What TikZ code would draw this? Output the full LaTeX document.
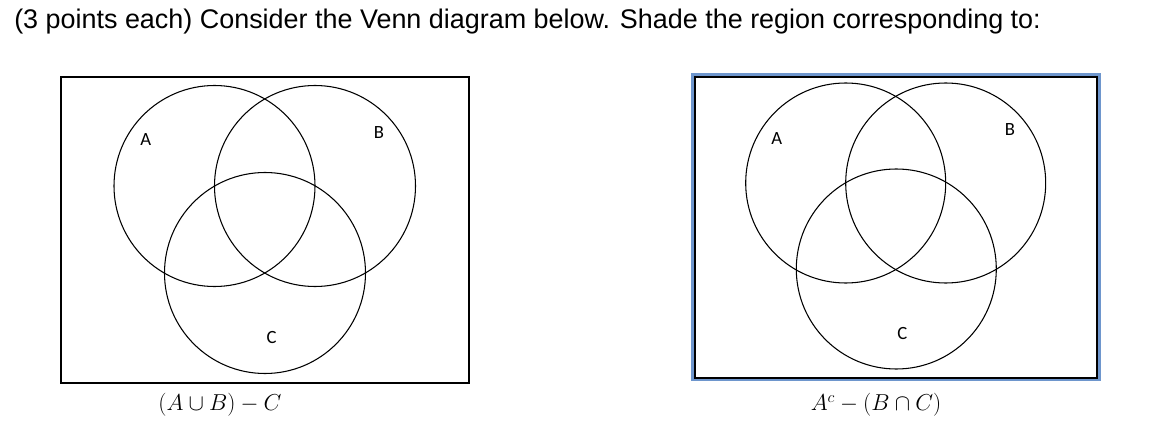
\documentclass[tikz,border=0pt]{standalone}
\usepackage{fontspec}
\usepackage{amsmath}
\setmainfont{Liberation Sans}
\newfontfamily\labelfont{Carlito}
\definecolor{boxblue}{RGB}{110,150,205}
\tikzset{
  setline/.style={line width=0.8pt},
  frame/.style={line width=1.5pt},
  setlabel/.style={font=\labelfont\fontsize{14}{16}\selectfont},
  caption/.style={font=\fontsize{18}{20}\selectfont}
}
\begin{document}
\begin{tikzpicture}[x=0.75pt,y=-0.75pt]
        \useasboundingbox (0,0) rectangle (1154,442);
        \node[anchor=west,inner sep=0pt,font=\fontsize{20.2}{24}\selectfont] (title) at (14,22)
            {(3 points each) Consider the Venn diagram below. Shade the region corresponding to:};
        % left diagram
        \draw[frame] (61,77) rectangle (469,383);
        \foreach \i\x\y in {A/214.5/186, B/315/186, C/265/273}{
            \draw[setline] (\x,\y) circle[radius=100.5];
        }
        \foreach \i\x\y in {A/145.7/140, B/379/132.7, C/271.7/337.7}{
            \node[setlabel] (l\i) at (\x,\y) {\i};
        }
        \node[caption] (lcap) at (220,405) {$(A \cup B) - C$};
        % right diagram
        \draw[line width=1.9pt,boxblue] (692.3,74.3) rectangle (1099.7,380.2);
        \draw[frame] (695,77) rectangle (1097,377.5);
        \foreach \i\x\y in {A/845.7/183, B/945.7/183, C/896.3/269}{
            \draw[setline] (\x,\y) circle[radius=100];
        }
        \foreach \i\x\y in {A/776.7/138.3, B/1010/130, C/902.3/334}{
            \node[setlabel] (r\i) at (\x,\y) {\i};
        }
        \node[caption] (rcap) at (876,405) {$A^{c} - (B \cap C)$};
    \end{tikzpicture}
\end{document}
